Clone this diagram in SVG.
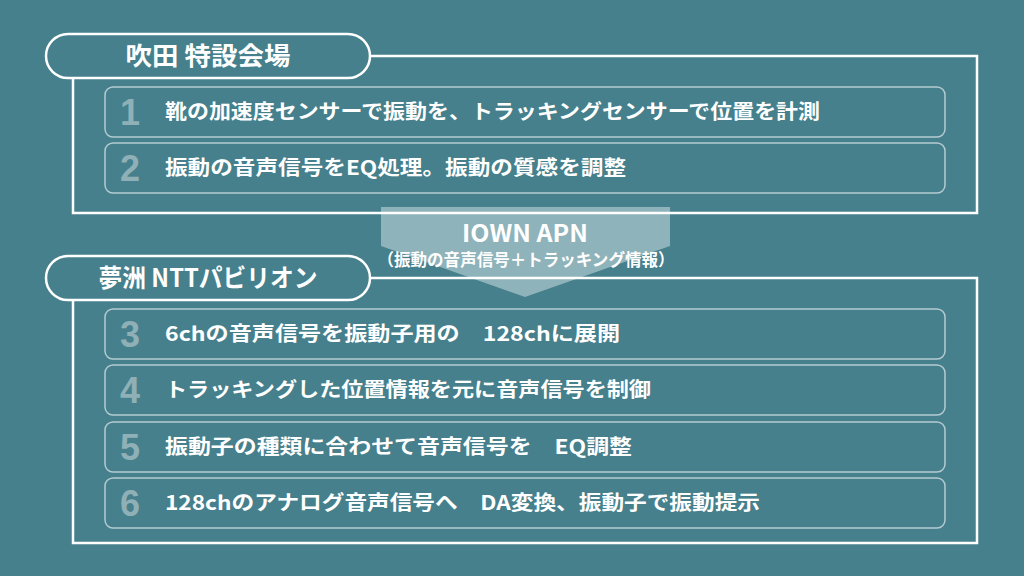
<svg xmlns="http://www.w3.org/2000/svg" width="1024" height="576" viewBox="0 0 1024 576">
<style>
.frame{fill:none;stroke:#ffffff;stroke-width:2.5}
.pill{fill:#45808c;stroke:#ffffff;stroke-width:2.5}
.item{fill:none;stroke:#b3cbd0;stroke-width:1.5}
.title{font-family:"Noto Sans CJK JP","Noto Sans",sans-serif;font-weight:700;font-size:25px;fill:#ffffff;text-anchor:middle}
.num{font-family:"Liberation Sans","Noto Sans",sans-serif;font-weight:700;font-size:36px;fill:#8fb0b7;text-anchor:middle}
.txt{font-family:"Noto Sans CJK JP","Noto Sans",sans-serif;font-weight:700;font-size:20px;fill:#ffffff}
.apn{font-family:"Noto Sans CJK JP","Noto Sans",sans-serif;font-weight:700;fill:#ffffff;text-anchor:middle}
</style>
<rect width="1024" height="576" fill="#45808c"/>
<g id="connectors">
<polygon id="arrow" points="381,207 670,207 670,246 525,297 381,246" fill="#ffffff" fill-opacity="0.4"/>
<path class="frame" d="M370,56 H977 V213 H73 V78"/>
<path class="frame" d="M370,278 H977 V543 H73 V300"/>
</g>
<g id="apn-label">
<text class="apn" x="525" y="242" font-size="24" textLength="126" lengthAdjust="spacingAndGlyphs">IOWN APN</text>
<text class="apn" x="526" y="266" font-size="17" textLength="297" lengthAdjust="spacingAndGlyphs">（振動の音声信号＋トラッキング情報）</text>
</g>
<g id="section-suita">
<rect class="pill" x="46" y="34" width="324" height="44" rx="22"/>
<text class="title" x="208" y="65" textLength="165" lengthAdjust="spacingAndGlyphs">吹田 特設会場</text>
</g>
<g id="item1">
<rect class="item" x="105" y="87" width="840" height="50" rx="8"/>
<text class="num" x="130" y="125">1</text>
<text class="txt" x="165" y="119" textLength="655" lengthAdjust="spacingAndGlyphs">靴の加速度センサーで振動を、トラッキングセンサーで位置を計測</text>
</g>
<g id="item2">
<rect class="item" x="105" y="143" width="840" height="50" rx="8"/>
<text class="num" x="130" y="181">2</text>
<text class="txt" x="165" y="175" textLength="461" lengthAdjust="spacingAndGlyphs">振動の音声信号をEQ処理。振動の質感を調整</text>
</g>
<g id="section-yumeshima">
<rect class="pill" x="46" y="256" width="324" height="44" rx="22"/>
<text class="title" x="208" y="287" textLength="219" lengthAdjust="spacingAndGlyphs">夢洲 NTTパビリオン</text>
</g>
<g id="item3">
<rect class="item" x="105" y="309" width="840" height="50" rx="8"/>
<text class="num" x="130" y="347">3</text>
<text class="txt" x="165" y="341" textLength="455" lengthAdjust="spacingAndGlyphs">6chの音声信号を振動子用の　128chに展開</text>
</g>
<g id="item4">
<rect class="item" x="105" y="365" width="840" height="50" rx="8"/>
<text class="num" x="130" y="403">4</text>
<text class="txt" x="165" y="397" textLength="486" lengthAdjust="spacingAndGlyphs">トラッキングした位置情報を元に音声信号を制御</text>
</g>
<g id="item5">
<rect class="item" x="105" y="422" width="840" height="50" rx="8"/>
<text class="num" x="130" y="460">5</text>
<text class="txt" x="165" y="454" textLength="467" lengthAdjust="spacingAndGlyphs">振動子の種類に合わせて音声信号を　EQ調整</text>
</g>
<g id="item6">
<rect class="item" x="105" y="478" width="840" height="50" rx="8"/>
<text class="num" x="130" y="516">6</text>
<text class="txt" x="165" y="510" textLength="595" lengthAdjust="spacingAndGlyphs">128chのアナログ音声信号へ　DA変換、振動子で振動提示</text>
</g>
</svg>
